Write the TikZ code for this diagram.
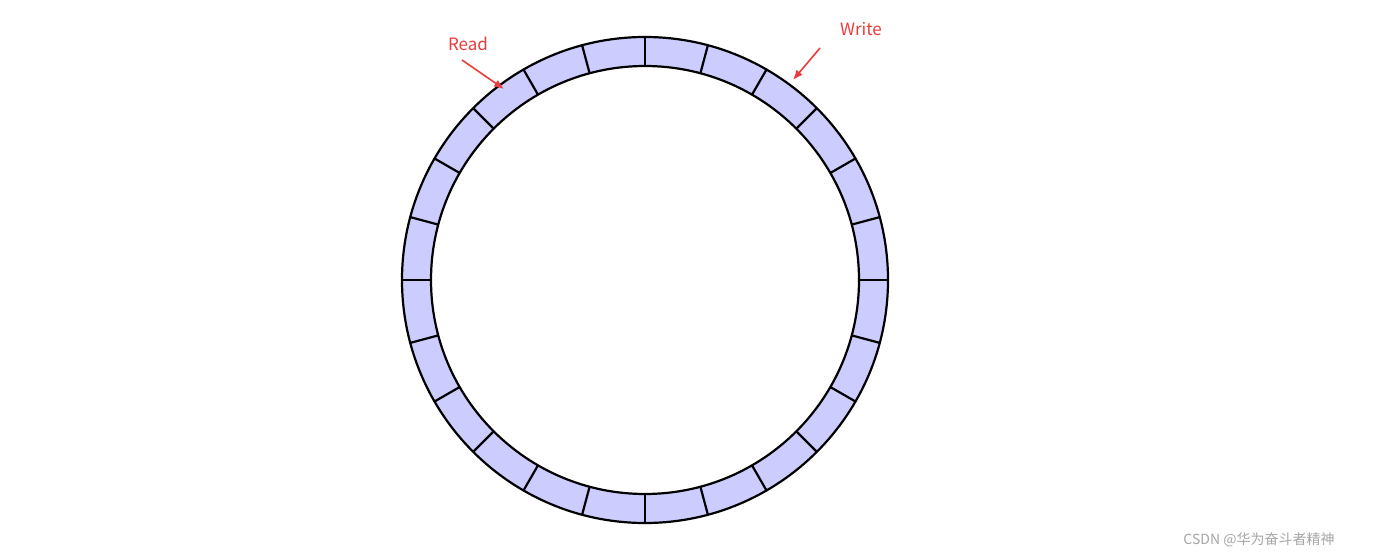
\documentclass[tikz,border=0pt]{standalone}
\usepackage{fontspec}
\setmainfont{Noto Sans CJK SC}
\usetikzlibrary{arrows.meta,calc}
\definecolor{seg}{RGB}{204,204,255}
\definecolor{lab}{RGB}{235,60,60}
\tikzset{lbl/.style={text=lab,font=\fontsize{17}{20}\selectfont,inner sep=0pt},
 arr/.style={draw=lab,line width=1.6pt,-{Latex[length=10pt,width=8pt]}}}
\begin{document}
\begin{tikzpicture}[x=1pt,y=-1pt]
\useasboundingbox (0,0) rectangle (1379,559);
\fill[white] (0,0) rectangle (1379,559);
\coordinate (c) at (645,280);
\fill[seg,even odd rule] (c) circle[radius=243] (c) circle[radius=214];
\draw[line width=2.2pt] (c) circle[radius=243] (c) circle[radius=214];
\foreach \a in {0,15,...,345}
  \draw[line width=2.2pt] ($(c)+(\a:214)$) -- ($(c)+(\a:243)$);
\node[lbl] (read) at (468,44) {Read};
\node[lbl] (write) at (861,29) {Write};
\coordinate (rt) at (504,89);
\coordinate (wt) at (793,80);
\draw[arr] (462,60) -- (rt);
\draw[arr] (820,48) -- (wt);
\node[text=gray!70,font=\fontsize{14}{16}\selectfont,inner sep=0pt] (wm) at (1259,540) {CSDN @华为奋斗者精神};
\end{tikzpicture}
\end{document}
